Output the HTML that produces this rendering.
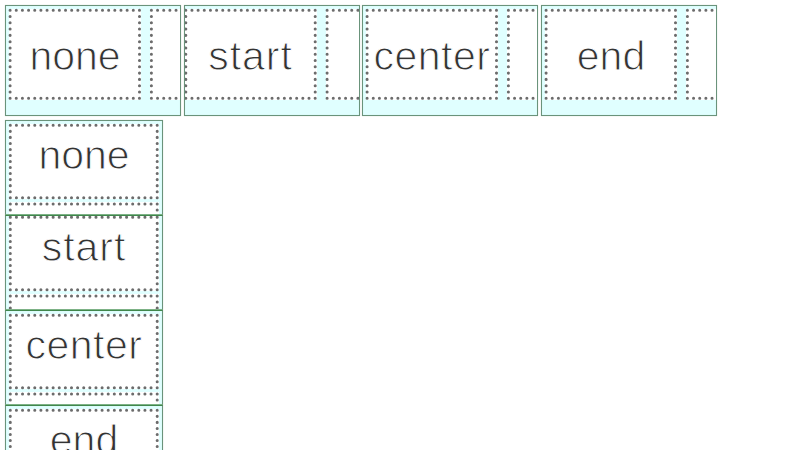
<!DOCTYPE html><html><head><meta charset="utf-8"><style>
html,body{margin:0;padding:0;background:#fff;overflow:hidden;width:800px;height:450px}
.c{position:absolute;box-sizing:border-box;border:1px solid #6a937b;background:#e0ffff;overflow:hidden;box-shadow:0 0 1px rgba(100,140,115,.35),inset 0 0 1px rgba(100,140,115,.25)}
.i{position:absolute;background:#fff}
.s{position:absolute;left:0;top:0;overflow:visible;fill:none;stroke:#6c6c6c;stroke-width:3.05px;stroke-linecap:round}
.t{position:absolute;-webkit-text-stroke:1.0px #fff;paint-order:normal;left:0;right:0;text-align:center;font-family:"Liberation Sans",sans-serif;font-size:41px;color:#333;white-space:nowrap;line-height:0;height:0}
</style></head><body>
<div class="c" style="left:5px;top:5px;width:176px;height:111px">
<div class="i" style="left:3px;top:3px;width:132px;height:91px"><svg class="s" width="132" height="91"><path d="M1.1 1.2H130.55M1.1 89.3H130.55" stroke-dasharray="0 6.16"/><path d="M1.1 7.49V83.06M130.5 7.49V83.06" stroke-dasharray="0 6.29"/></svg><span class="t" style="top:46.6px;letter-spacing:0.0px">none</span></div>
<div class="i" style="left:144px;top:3px;width:132px;height:91px"><svg class="s" width="132" height="91"><path d="M1.4 1.2H130.85M1.4 89.3H130.85" stroke-dasharray="0 6.16"/><path d="M1.4 7.49V83.06M130.8 7.49V83.06" stroke-dasharray="0 6.29"/></svg></div>
</div>
<div class="c" style="left:184px;top:5px;width:176px;height:111px">
<div class="i" style="left:-1px;top:3px;width:133px;height:91px"><svg class="s" width="133" height="91"><path d="M1.8 1.2H131.25M1.8 89.3H131.25" stroke-dasharray="0 6.16"/><path d="M1.8 7.49V83.06M131.2 7.49V83.06" stroke-dasharray="0 6.29"/></svg><span class="t" style="top:46.6px;letter-spacing:1.0px">start</span></div>
<div class="i" style="left:141px;top:3px;width:132px;height:91px"><svg class="s" width="132" height="91"><path d="M1.1 1.2H130.55M1.1 89.3H130.55" stroke-dasharray="0 6.16"/><path d="M1.1 7.49V83.06M130.5 7.49V83.06" stroke-dasharray="0 6.29"/></svg></div>
</div>
<div class="c" style="left:362px;top:5px;width:176px;height:111px">
<div class="i" style="left:3px;top:3px;width:132px;height:91px"><svg class="s" width="132" height="91"><path d="M1.1 1.2H130.55M1.1 89.3H130.55" stroke-dasharray="0 6.16"/><path d="M1.1 7.49V83.06M130.5 7.49V83.06" stroke-dasharray="0 6.29"/></svg><span class="t" style="top:46.6px;letter-spacing:0.5px">center</span></div>
<div class="i" style="left:144px;top:3px;width:132px;height:91px"><svg class="s" width="132" height="91"><path d="M1.4 1.2H130.85M1.4 89.3H130.85" stroke-dasharray="0 6.16"/><path d="M1.4 7.49V83.06M130.8 7.49V83.06" stroke-dasharray="0 6.29"/></svg></div>
</div>
<div class="c" style="left:541px;top:5px;width:176px;height:111px">
<div class="i" style="left:3px;top:3px;width:132px;height:91px"><svg class="s" width="132" height="91"><path d="M1.1 1.2H130.55M1.1 89.3H130.55" stroke-dasharray="0 6.16"/><path d="M1.1 7.49V83.06M130.5 7.49V83.06" stroke-dasharray="0 6.29"/></svg><span class="t" style="top:46.6px;letter-spacing:0.0px">end</span></div>
<div class="i" style="left:144px;top:3px;width:132px;height:91px"><svg class="s" width="132" height="91"><path d="M1.4 1.2H130.85M1.4 89.3H130.85" stroke-dasharray="0 6.16"/><path d="M1.4 7.49V83.06M130.8 7.49V83.06" stroke-dasharray="0 6.29"/></svg></div>
</div>
<div class="c" style="left:5px;top:120px;width:158px;height:95px;border-top-color:#6a937b;border-bottom-color:#7fb589">
<div class="i" style="left:3px;top:3px;width:150px;height:75px"><svg class="s" width="150" height="75"><path d="M1.3 1.33H148.25M1.3 73.7H148.25" stroke-dasharray="0 6.12"/><path d="M1.3 7.36V67.72M148.2 7.36V67.72" stroke-dasharray="0 6.03"/></svg><span class="t" style="top:31.33px;letter-spacing:0.0px">none</span></div>
<div class="i" style="left:3px;top:81px;width:150px;height:76px"><svg class="s" width="150" height="76"><path d="M1.3 1.9H148.25M1.3 74.27H148.25" stroke-dasharray="0 6.12"/><path d="M1.3 7.93V68.29M148.2 7.93V68.29" stroke-dasharray="0 6.03"/></svg></div>
</div>
<div class="c" style="left:5px;top:215px;width:158px;height:95px;border-top-color:#40874c;border-bottom-color:#7fb589">
<div class="i" style="left:3px;top:0px;width:150px;height:75px"><svg class="s" width="150" height="75"><path d="M1.3 1.33H148.25M1.3 73.7H148.25" stroke-dasharray="0 6.12"/><path d="M1.3 7.36V67.72M148.2 7.36V67.72" stroke-dasharray="0 6.03"/></svg><span class="t" style="top:31.33px;letter-spacing:1.0px">start</span></div>
<div class="i" style="left:3px;top:78px;width:150px;height:76px"><svg class="s" width="150" height="76"><path d="M1.3 1.9H148.25M1.3 74.27H148.25" stroke-dasharray="0 6.12"/><path d="M1.3 7.93V68.29M148.2 7.93V68.29" stroke-dasharray="0 6.03"/></svg></div>
</div>
<div class="c" style="left:5px;top:310px;width:158px;height:95px;border-top-color:#40874c;border-bottom-color:#7fb589">
<div class="i" style="left:3px;top:3px;width:150px;height:75px"><svg class="s" width="150" height="75"><path d="M1.3 1.33H148.25M1.3 73.7H148.25" stroke-dasharray="0 6.12"/><path d="M1.3 7.36V67.72M148.2 7.36V67.72" stroke-dasharray="0 6.03"/></svg><span class="t" style="top:31.33px;letter-spacing:0.5px">center</span></div>
<div class="i" style="left:3px;top:81px;width:150px;height:76px"><svg class="s" width="150" height="76"><path d="M1.3 1.9H148.25M1.3 74.27H148.25" stroke-dasharray="0 6.12"/><path d="M1.3 7.93V68.29M148.2 7.93V68.29" stroke-dasharray="0 6.03"/></svg></div>
</div>
<div class="c" style="left:5px;top:405px;width:158px;height:95px;border-top-color:#40874c;border-bottom-color:#6a937b">
<div class="i" style="left:3px;top:3px;width:150px;height:75px"><svg class="s" width="150" height="75"><path d="M1.3 1.33H148.25M1.3 73.7H148.25" stroke-dasharray="0 6.12"/><path d="M1.3 7.36V67.72M148.2 7.36V67.72" stroke-dasharray="0 6.03"/></svg><span class="t" style="top:31.33px;letter-spacing:0.0px">end</span></div>
<div class="i" style="left:3px;top:81px;width:150px;height:76px"><svg class="s" width="150" height="76"><path d="M1.3 1.9H148.25M1.3 74.27H148.25" stroke-dasharray="0 6.12"/><path d="M1.3 7.93V68.29M148.2 7.93V68.29" stroke-dasharray="0 6.03"/></svg></div>
</div>
</body></html>
